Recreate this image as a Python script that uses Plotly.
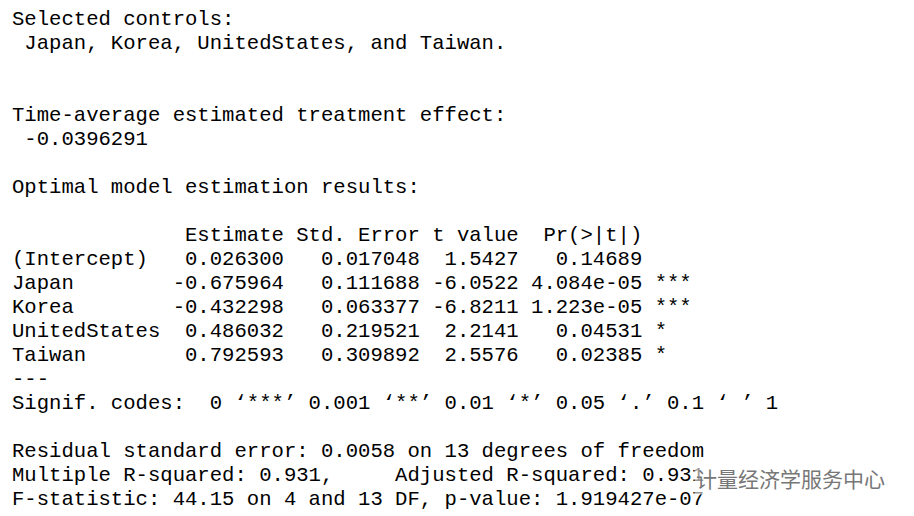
import plotly.graph_objects as go

controls = ["Japan", "Korea", "UnitedStates", "Taiwan"]
att = -0.0396291
terms = ["(Intercept)", "Japan", "Korea", "UnitedStates", "Taiwan"]
estimates = ["0.026300", "-0.675964", "-0.432298", "0.486032", "0.792593"]
std_errors = ["0.017048", "0.111688", "0.063377", "0.219521", "0.309892"]
t_values = ["1.5427", "-6.0522", "-6.8211", "2.2141", "2.5576"]
p_values = ["0.14689", "4.084e-05", "1.223e-05", "0.04531", "0.02385"]
stars = ["", "***", "***", "*", "*"]

lines = [
    "Selected controls:",
    " " + ", ".join(controls[:-1]) + ", and " + controls[-1] + ".",
    "",
    "",
    "Time-average estimated treatment effect:",
    f" {att:.7f}",
    "",
    "Optimal model estimation results:",
    "",
    " " * 12 + "%10s%11s%8s%10s" % ("Estimate", "Std. Error", "t value", "Pr(>|t|)"),
]
for i, name in enumerate(terms):
    row = "%-12s%10s%11s%8s%10s" % (name, estimates[i], std_errors[i], t_values[i], p_values[i])
    if stars[i]:
        row += " " + stars[i]
    lines.append(row)
lines += [
    "---",
    "Signif. codes:  0 \u2018***\u2019 0.001 \u2018**\u2019 0.01 \u2018*\u2019 0.05 \u2018.\u2019 0.1 \u2018 \u2019 1",
    "",
    "Residual standard error: 0.0058 on 13 degrees of freedom",
    "Multiple R-squared: 0.931,     Adjusted R-squared: 0.931",
    "F-statistic: 44.15 on 4 and 13 DF, p-value: 1.919427e-07",
]

X0, Y0, DY = 2, 11, 24
fig = go.Figure()
ann = [dict(x=X0, y=Y0 - DY, text="> summary(pcf.fit.reg)".replace(" ", "\u00a0"),
            font=dict(color="#1a1acc"))]
for i, ln in enumerate(lines):
    if ln:
        ann.append(dict(x=X0, y=Y0 + DY * i, text=ln.replace(" ", "\u00a0")))
for a in ann:
    a.update(xref="x", yref="y", xanchor="left", yanchor="middle", showarrow=False)
    a.setdefault("font", {})
    a["font"].update(family="Liberation Mono", size=20.6)
    a["font"].setdefault("color", "black")

# watermark
ann.append(dict(x=686, y=470, xref="x", yref="y", xanchor="left", yanchor="middle",
                showarrow=False, text="计量经济学服务中心", bgcolor="rgba(255,255,255,0.6)",
                font=dict(family="Noto Sans CJK SC", size=21, color="#777777")))

fig.update_layout(
    width=914, height=516, margin=dict(l=0, r=0, t=0, b=0),
    plot_bgcolor="white", paper_bgcolor="white",
    xaxis=dict(range=[0, 914], visible=False, fixedrange=True),
    yaxis=dict(range=[516, 0], visible=False, fixedrange=True),
    annotations=ann, showlegend=False,
)
fig.write_html("out.html")
